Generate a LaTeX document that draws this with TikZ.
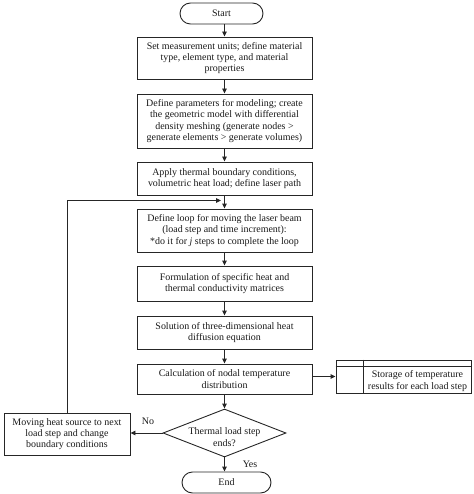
\documentclass[tikz,border=0pt]{standalone}
\usepackage{fontspec}
\setmainfont{Liberation Serif}
\usetikzlibrary{arrows.meta,shapes.geometric}
\begin{document}
\begin{tikzpicture}[x=1bp,y=-1bp,
  basefont/.style={font=\fontsize{10}{11.3}\selectfont, text=black!90},
  box/.style={basefont, draw=black!85, line width=0.9bp, align=center, inner sep=0pt, minimum width=175bp},
  pill/.style={basefont, draw=black!85, line width=0.9bp, inner sep=0pt, rounded corners=10.5bp, minimum height=21bp},
  decision/.style={draw=black!85, line width=0.9bp, diamond, inner sep=0pt, minimum width=123bp, minimum height=48bp},
  lbl/.style={basefont, inner sep=0pt},
  arr/.style={draw=black!85, line width=0.9bp, -{Triangle[length=5bp,width=4.5bp]}},
  ln/.style={draw=black!85, line width=0.9bp}
]
\useasboundingbox (0,0) rectangle (474,494);

\node[pill, minimum width=83bp] (start) at (221.5,13.5) {Start};
\node[box, minimum height=42bp] (b1) at (224.5,58) {Set measurement units; define material\\ type, element type, and material\\ properties};
\node[box, minimum height=54bp] (b2) at (224.5,121) {Define parameters for modeling; create\\ the geometric model with differential\\ density meshing (generate nodes >\\ generate elements > generate volumes)};
\node[box, minimum height=33bp] (b3) at (224.5,178.5) {Apply thermal boundary conditions,\\ volumetric heat load; define laser path};
\node[box, minimum height=43bp] (b4) at (224.5,230.5) {Define loop for moving the laser beam\\ (load step and time increment):\\ *do it for \textit{j} steps to complete the loop};
\node[box, minimum height=35bp] (b5) at (224.5,283.5) {Formulation of specific heat and\\ thermal conductivity matrices};
\node[box, minimum height=33bp] (b6) at (224.5,332.5) {Solution of three-dimensional heat\\ diffusion equation};
\node[box, minimum height=30bp] (b7) at (224.5,379) {Calculation of nodal temperature\\ distribution};
\node[decision, label={[basefont, align=center, inner sep=0pt, yshift=-4bp]center:Thermal load step\\ ends?}] (d) at (224.5,433) {};
\node[box, minimum width=126bp, minimum height=42bp] (mv) at (67,434) {Moving heat source to next\\ load step and change\\ boundary conditions};
\node[box, minimum width=135bp, minimum height=33bp] (st) at (403.5,376.5) {};
\node[lbl, align=center] (sttext) at (417.5,381) {Storage of temperature\\ results for each load step};
\node[pill, minimum width=89bp] (end) at (226.5,482.5) {End};

% storage inner lines
\coordinate (stv) at (363,360);
\coordinate (sth) at (336,366.5);
\draw[ln] (stv |- st.north) -- (stv |- st.south);
\draw[ln] (sth -| st.west) -- (sth -| st.east);

\node[lbl] (no) at (148,421) {No};
\node[lbl] (yes) at (250,464) {Yes};

\draw[arr] (b1.north |- start.south) -- (b1.north);
\draw[arr] (b1) -- (b2);
\draw[arr] (b2) -- (b3);
\draw[arr] (b3) -- (b4);
\draw[arr] (b4) -- (b5);
\draw[arr] (b5) -- (b6);
\draw[arr] (b6) -- (b7);
\draw[arr] (b7) -- (d);
\draw[arr] (d.south) -- (d.south |- end.north);
\draw[arr] (b7.east |- st.west) -- (st.west);
\draw[arr] (d.west) -- (d.west -| mv.east);
\coordinate (loopc) at (221,200.5);
\draw[arr] (mv.north) -- (mv.north |- loopc) -- (loopc);
\end{tikzpicture}
\end{document}
